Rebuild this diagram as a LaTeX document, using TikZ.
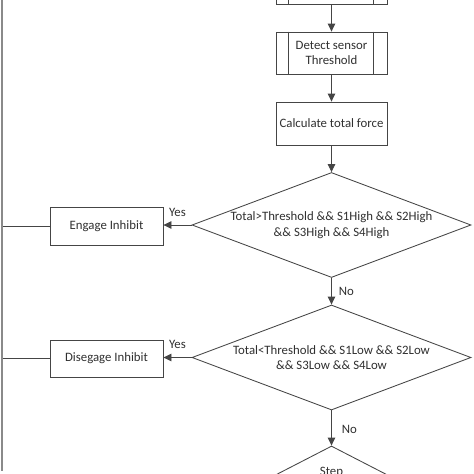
\documentclass[tikz,border=0pt]{standalone}
\usepackage{fontspec}
\setmainfont{Carlito}
\usetikzlibrary{arrows.meta,shapes.geometric}
\definecolor{ln}{HTML}{454545}
\definecolor{tx}{HTML}{303030}
\definecolor{side}{HTML}{8A8A8A}
\begin{document}
\begin{tikzpicture}[x=1pt,y=-1pt,
  every node/.style={font=\fontsize{12.8}{15.5}\selectfont, text=tx},
  procbox/.style={draw=ln, line width=0.85pt, rectangle, minimum width=111pt, minimum height=42pt, inner sep=0pt, align=center},
  predef/.style={procbox, append after command={
     \pgfextra{\draw[ln, line width=0.85pt] ([xshift=13pt]\tikzlastnode.north west) -- ([xshift=13pt]\tikzlastnode.south west)
       ([xshift=-14pt]\tikzlastnode.north east) -- ([xshift=-14pt]\tikzlastnode.south east);}}},
  decision/.style={draw=ln, line width=0.85pt, diamond, aspect=2.66, minimum width=279pt, minimum height=105pt, inner sep=0pt, align=center},
  flow/.style={draw=ln, line width=0.85pt, -{Triangle[length=8pt,width=7.5pt]}},
  plain/.style={draw=ln, line width=0.85pt},
  lbl/.style={inner sep=0pt}
]
\useasboundingbox (0,0) rectangle (474,474);
\clip (0,0) rectangle (474,474);
\fill[white] (0,0) rectangle (474,474);

\node[predef] (top) at (331.5,-17) {};
\node[predef] (detect) at (331.5,53) {Detect sensor\\Threshold};
\node[procbox, minimum height=43pt] (calc) at (331.5,123.5) {Calculate total force};
\node[decision] (d1) at (331.5,225) {Total>Threshold \&\& S1High \&\& S2High\\\&\& S3High \&\& S4High};
\node[procbox, minimum width=113pt, minimum height=38pt] (engage) at (106.5,226) {Engage Inhibit};
\node[decision] (d2) at (331.5,357.5) {Total<Threshold \&\& S1Low \&\& S2Low\\\&\& S3Low \&\& S4Low};
\node[procbox, minimum width=113pt, minimum height=37pt] (diseng) at (106.5,358.5) {Disegage Inhibit};
\node[draw=ln, line width=0.85pt, diamond, aspect=1.94, minimum width=190pt, minimum height=98pt, inner sep=0pt, align=center] (d3) at (331.5,495) {};
\node[lbl, anchor=north] (steptxt) at (331.5,467) {Step};

\coordinate (sidetop) at (2,0);
\coordinate (sidebot) at (2,471);
\coordinate (e1) at (2,226);
\coordinate (e2) at (2,358.5);

\draw[flow] (top.south) -- (detect.north);
\draw[flow] (detect.south) -- (calc.north);
\draw[flow] (calc.south) -- (d1.north);
\draw[flow] (d1.west) -- (d1.west -| engage.east) node[lbl, pos=0.5, above=8pt] {Yes};
\draw[flow] (d1.south) -- (d2.north) node[lbl, pos=0.5, right=7pt] {No};
\draw[flow] (d2.west) -- (d2.west -| diseng.east) node[lbl, pos=0.5, above=8pt] {Yes};
\draw[flow] (d2.south) -- (d3.north) node[lbl, pos=0.55, right=10pt] {No};
\draw[plain] (engage.west) -- (e1);
\draw[plain] (diseng.west) -- (e2);
\draw[side, line width=1.8pt] (sidetop) -- (sidebot);
\end{tikzpicture}
\end{document}
